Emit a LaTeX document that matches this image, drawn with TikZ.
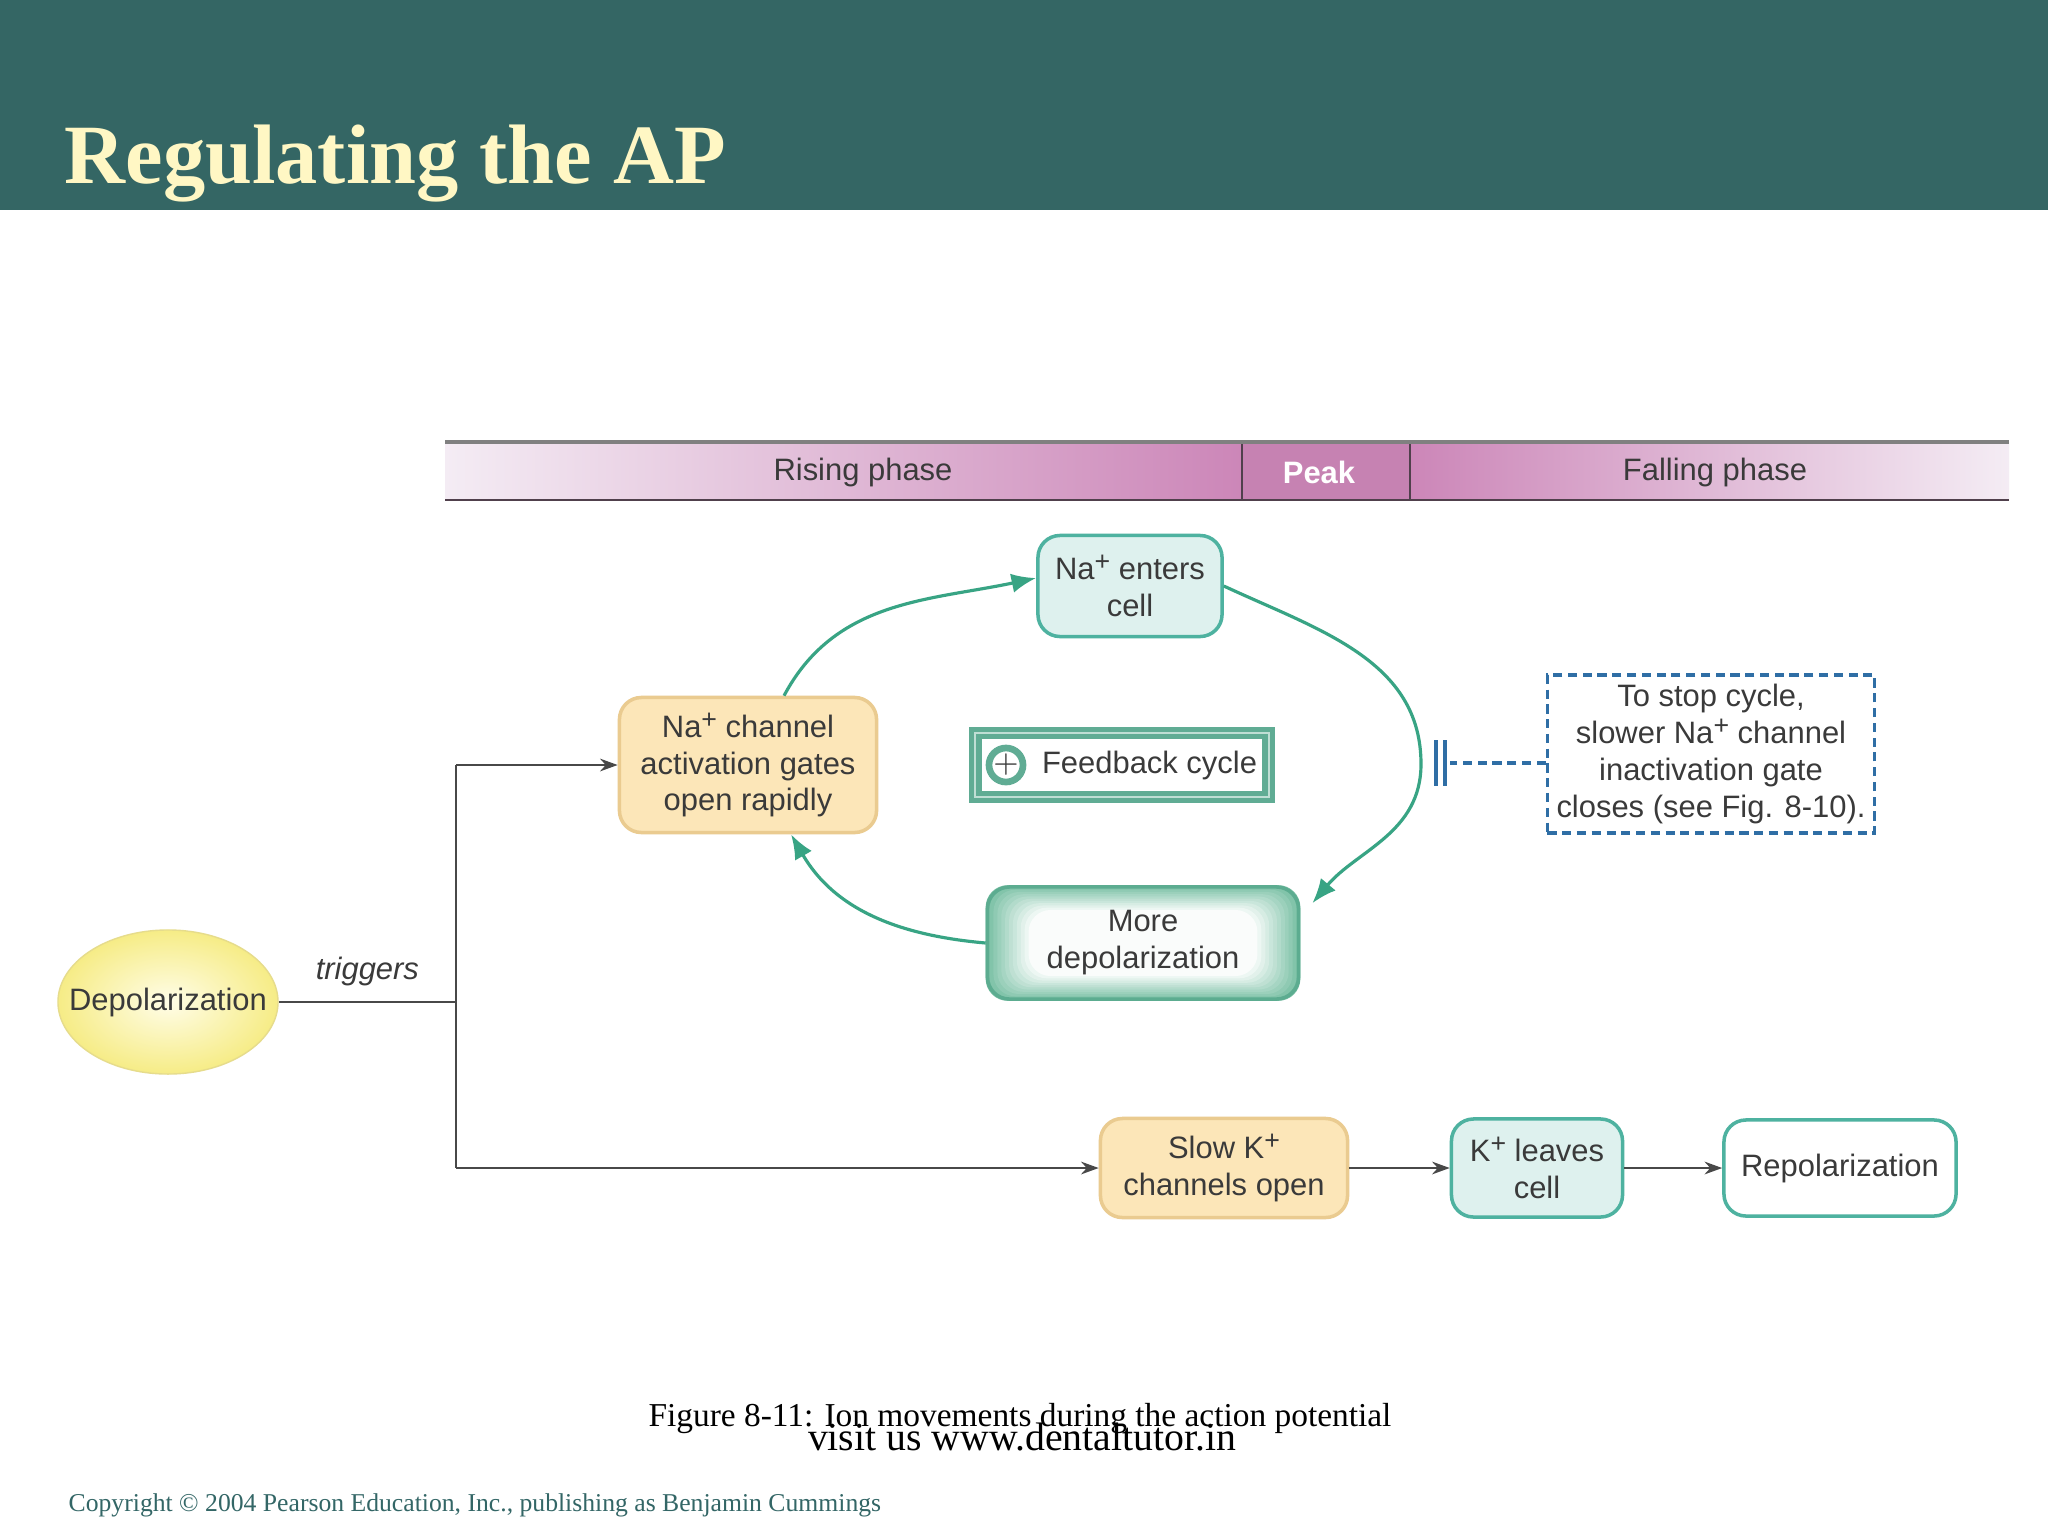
\documentclass[tikz,border=0pt]{standalone}
\usepackage{fontspec}
\setmainfont{Liberation Sans}
\newfontfamily\timesfont{Liberation Serif}
\usepackage{xcolor}
\usetikzlibrary{arrows.meta, positioning, shapes.geometric, calc, backgrounds}

\definecolor{header}{RGB}{52,102,100}
\definecolor{titlecol}{RGB}{255,247,196}
\definecolor{txt}{RGB}{58,58,58}
\definecolor{orangefill}{RGB}{252,230,184}
\definecolor{orangeline}{RGB}{234,203,144}
\definecolor{cyanfill}{RGB}{222,241,238}
\definecolor{cyanline}{RGB}{78,178,160}
\definecolor{fbteal}{RGB}{96,172,148}
\definecolor{loopgreen}{RGB}{56,164,132}
\definecolor{moreglow}{RGB}{118,190,162}
\definecolor{moreline}{RGB}{92,172,144}
\definecolor{stopblue}{RGB}{47,110,165}
\definecolor{ellinner}{RGB}{255,253,232}
\definecolor{ellouter}{RGB}{246,236,134}
\definecolor{ellline}{RGB}{230,220,140}
\definecolor{grayline}{RGB}{72,72,72}
\definecolor{phaselight}{RGB}{244,236,244}
\definecolor{phasepink}{RGB}{204,134,184}
\definecolor{phasedark}{RGB}{80,64,76}
\definecolor{copyteal}{RGB}{51,102,102}

\newcommand{\ionplus}{\raisebox{0.55ex}{\fontsize{7.6}{8}\selectfont+}}

\begin{document}
\begin{tikzpicture}[
        x=0.01cm, y=-0.01cm,
        every node/.style={font=\fontsize{8.8}{10.5}\selectfont, text=txt, align=center},
        box/.style={rectangle, rounded corners=2.2mm, line width=1pt, inner sep=2pt},
        orangebox/.style={box, draw=orangeline, fill=orangefill},
        cyanbox/.style={box, draw=cyanline, fill=cyanfill},
        conn/.style={draw=grayline, line width=0.7pt},
        arr/.style={conn, -{Stealth[length=5pt,width=3.6pt]}},
        cyclearrow/.style={draw=loopgreen, line width=0.9pt, -{Latex[length=7pt,width=5.5pt]}},
        stopline/.style={draw=stopblue, line width=0.9pt, dash pattern=on 2.6pt off 1.6pt}
    ]
        \begin{scope}[on background layer]
            \fill[white] (0,0) rectangle (2048,1536);
        \end{scope}
        \useasboundingbox (0,0) rectangle (2048,1536);

        \fill[header] (0,0) rectangle (2048,210);
        \node[anchor=base west, inner sep=0pt, font=\timesfont\bfseries\fontsize{24}{29}\selectfont, text=titlecol] (title) at (64,183) {Regulating the AP};

        % phase bar
        \shade[left color=phaselight, right color=phasepink] (445,442) rectangle (1242,500);
        \fill[phasepink!97!black] (1242,442) rectangle (1410,500);
        \shade[left color=phasepink, right color=phaselight] (1410,442) rectangle (2009,500);
        \draw[phasedark, line width=0.6pt] (1242,442) -- (1242,500) (1410,442) -- (1410,500);
        \draw[gray, line width=1.3pt] (445,442) -- (2009,442);
        \draw[phasedark, line width=0.8pt] (445,500) -- (2009,500);
        \node (rise) at (863,472) {Rising phase};
        \node[text=white, font=\bfseries\fontsize{8.8}{10.5}\selectfont] (peak) at (1319,472) {Peak};
        \node (fall) at (1715,472) {Falling phase};

        \node[cyanbox, minimum width=1.84cm, minimum height=1.01cm] (naent) at (1130,586) {Na\ionplus{} enters\\cell};
        \node[orangebox, minimum width=2.57cm, minimum height=1.35cm] (nagate) at (748,765) {Na\ionplus{} channel\\activation gates\\open rapidly};
        \node[draw=fbteal, double=fbteal!40!white, double distance=0.6pt, line width=1.5pt,
              minimum width=2.93cm, minimum height=0.64cm] (fb) at (1122,765) {\hspace*{0.55cm}Feedback cycle};
        \node[circle, draw=fbteal, line width=1.9pt, fill=white, minimum size=0.34cm, inner sep=0pt] (plus) at (1006,765) {$+$};
        \node[box, draw=moreline, minimum width=3.11cm, minimum height=1.12cm] (more) at (1143,943) {More\\depolarization};
        \begin{scope}[on background layer]
            \foreach \d [evaluate=\d as \c using {int(100-\d*2.9)}] in {0,3,...,33}
                \fill[moreglow!\c!white, rounded corners=2.2mm] ($(more.north west)+(1.3*\d,0.75*\d)$) rectangle ($(more.south east)+(-1.3*\d,-0.75*\d)$);
        \end{scope}
        \node[stopline, minimum width=3.27cm, minimum height=1.58cm, inner sep=2pt] (stop) at (1711,754) {To stop cycle,\\slower Na\ionplus{} channel\\inactivation gate\\closes (see Fig. 8-10).};

        \node[ellipse, draw=ellline, inner color=ellinner, outer color=ellouter, minimum width=2.19cm, minimum height=1.44cm, inner xsep=-6pt, inner ysep=0pt] (depol) at (168,1002) {Depolarization};
        \node[orangebox, minimum width=2.47cm, minimum height=0.99cm] (slowk) at (1224,1168) {Slow K\ionplus\\channels open};
        \node[cyanbox, minimum width=1.71cm, minimum height=0.98cm] (kleave) at (1537,1168) {K\ionplus{} leaves\\cell};
        \node[box, draw=cyanline, fill=white, minimum width=2.32cm, minimum height=0.96cm] (repol) at (1840,1168) {Repolarization};

        % positive feedback loop
        \coordinate (swing) at (1421,764);
        \draw[cyclearrow] ([xshift=0.36cm]nagate.north) to[out=62, in=192] ([yshift=0.08cm]naent.west);
        \draw[cyclearrow] (naent.east) to[out=-25, in=90] (swing) to[out=-90, in=50] ($(more.north east)+(12,18)$);
        \draw[cyclearrow] (more.west) to[out=175, in=-60] ([xshift=0.43cm]nagate.south);

        % stop signal
        \coordinate (blk) at (1450,763);
        \draw[stopline] (blk -| stop.west) -- (blk);
        \draw[stopblue, line width=1pt] (1436,740) -- (1436,786) (1445,740) -- (1445,786);

        % triggers
        \coordinate (jm) at (456,1002);
        \coordinate (jt) at (nagate.west -| jm);
        \coordinate (jb) at (slowk.west -| jm);
        \draw[conn] (depol.east) -- (jm) node[midway, above=1pt] (trig) {\textit{triggers}};
        \draw[conn] (jt) -- (jb);
        \draw[arr] (jt) -- (nagate.west);
        \draw[arr] (jb) -- (slowk.west);
        \draw[arr] (slowk) -- (kleave);
        \draw[arr] (kleave) -- (repol);

        \node[anchor=base, font=\timesfont\fontsize{9.5}{11}\selectfont, text=black] (cap) at (1020,1426) {Figure 8-11: Ion movements during the action potential};
        \node[anchor=base, font=\timesfont\fontsize{11.3}{13}\selectfont, text=black] (visit) at (1022,1450) {visit us www.dentaltutor.in};
        \node[anchor=base west, font=\timesfont\fontsize{7.3}{9}\selectfont, text=copyteal, inner sep=0pt] (copy) at (68,1511) {Copyright \textcopyright{} 2004 Pearson Education, Inc., publishing as Benjamin Cummings};
    \end{tikzpicture}
\end{document}
